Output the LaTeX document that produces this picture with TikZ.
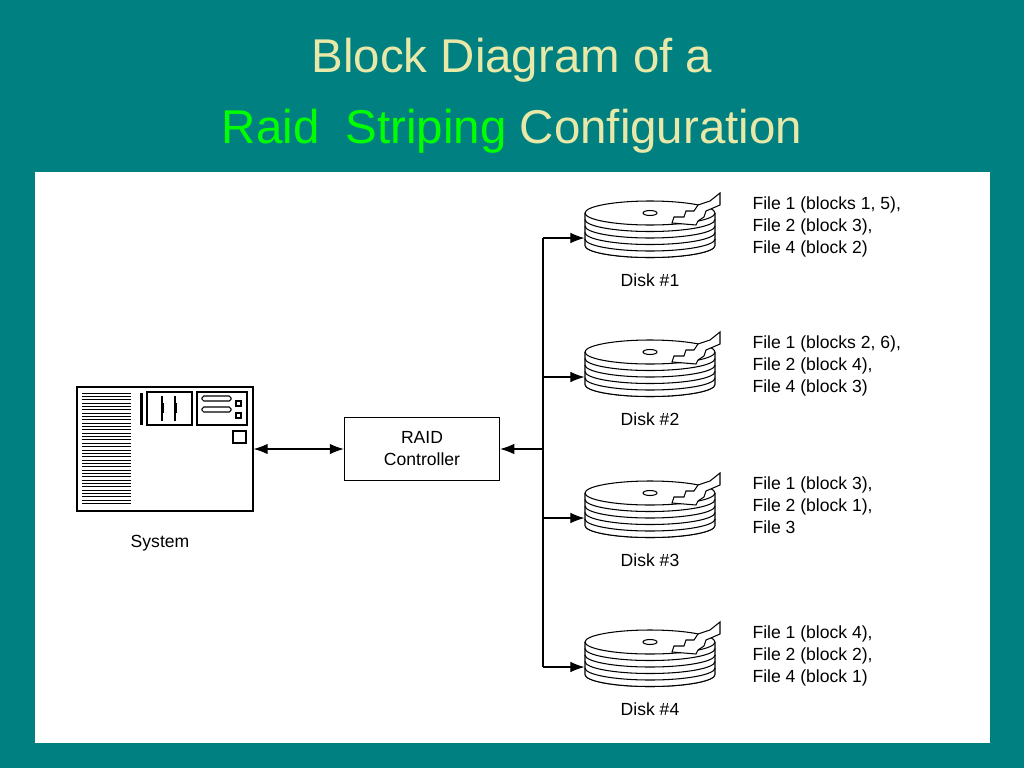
\documentclass[tikz,border=0pt]{standalone}
\usepackage{fontspec}
\setmainfont{Liberation Sans}
\usetikzlibrary{arrows.meta}
\definecolor{bg}{HTML}{008080}
\definecolor{ttl}{HTML}{E8E8A8}
\definecolor{grn}{HTML}{00FF00}
\begin{document}
\begin{tikzpicture}[x=0.02cm,y=-0.02cm,line width=0.6pt,
  lbl/.style={font=\fontsize{10}{12.5}\selectfont,align=left,inner sep=0pt},
  box/.style={draw,thick,fill=white},
  arr/.style={-{Latex[length=8pt,width=6pt]}},
  pics/disk/.style={code={
    \foreach \k in {1,...,5}{\draw[fill=white] (-65,6.5*\k) arc[start angle=180,end angle=360,x radius=1.3cm,y radius=0.24cm];}
    \draw[fill=white] (-65,0) -- (-65,32.5) arc[start angle=180,end angle=360,x radius=1.3cm,y radius=0.24cm] -- (65,0);
    \foreach \k in {4,3,2,1}{\draw (-65,6.5*\k) arc[start angle=180,end angle=360,x radius=1.3cm,y radius=0.24cm];}
    \draw[fill=white] (0,0) ellipse[x radius=1.3cm,y radius=0.24cm];
    \draw (0,0) ellipse[x radius=0.14cm,y radius=0.05cm];
    \draw[fill=white] (22,10) -- (24,4) -- (34,4) -- (36,-2) -- (44,-2) -- (48,-8) -- (60,-12) -- (70,-20) -- (70,-8) -- (56,-2) -- (54,4) -- (48,8) -- (46,12) -- cycle;
  }}]
\useasboundingbox (0,0) rectangle (1024,768);
\fill[bg] (0,0) rectangle (1024,768);
\node[font=\fontsize{27}{32}\selectfont,text=ttl] (t1) at (512,60) {Block Diagram of a};
\node[font=\fontsize{27}{32}\selectfont,text=ttl] (t2) at (512,131) {\textcolor{grn}{Raid\ \ Striping} Configuration};
\fill[white] (35,172) rectangle (990,743);

% System
\node[box,minimum width=3.52cm,minimum height=2.48cm,inner sep=0pt] (sys) at (165,449) {};
\foreach \i in {0,...,33}{\draw[line width=0.5pt] (82,393+3.35*\i) -- (131,393+3.35*\i);}
\fill (140,393) rectangle (143,425);
\draw (147,392) rectangle (192,425);
\draw (162,396) -- (162,421); \draw (175,396) -- (175,421);
\fill (160.5,403) rectangle (163.5,413); \fill (173.5,403) rectangle (176.5,413);
\draw (197,392) rectangle (247,425);
\draw[rounded corners=1pt] (202,396) rectangle (231,401);
\draw[rounded corners=1pt] (202,407) rectangle (231,412);
\draw (236,401) rectangle (241,406); \draw (236,413) rectangle (241,418);
\draw (233,431) rectangle (246,443);
\node[lbl] (syslbl) at (160,543) {System};

% RAID
\node[box,minimum width=3.1cm,minimum height=1.26cm,align=center,font=\fontsize{10}{12.5}\selectfont] (raid) at (422,449) {RAID\\Controller};
\draw[{Latex[length=8pt,width=6pt]}-{Latex[length=8pt,width=6pt]}] (sys.east) -- (raid.west);

% Bus
\coordinate (bt) at (543,238);
\coordinate (bb) at (543,667);
\coordinate (bm) at (543,449);
\draw (bt) -- (bb);
\draw[arr] (bm) -- (raid.east);

\foreach \n/\y/\ta/\tb/\tc in {1/213/{File 1 (blocks 1, 5),}/{File 2 (block 3),}/{File 4 (block 2)},
  2/352/{File 1 (blocks 2, 6),}/{File 2 (block 4),}/{File 4 (block 3)},
  3/493/{File 1 (block 3),}/{File 2 (block 1),}/{File 3},
  4/642/{File 1 (block 4),}/{File 2 (block 2),}/{File 4 (block 1)}}{
  \pic at (650,\y) {disk};
  \node[inner sep=0pt,minimum width=2.6cm,minimum height=0.2cm] (d\n) at (650,\y+25) {};
  \coordinate (b\n) at (543,\y+25);
  \draw[arr] (b\n) -- (d\n.west);
  \node[lbl] (dl\n) at (650,\y+67) {Disk \#\n};
  \node[lbl,anchor=north west] (f\n) at (752,\y-17) {\ta\\\tb\\\tc};
}
\end{tikzpicture}
\end{document}
